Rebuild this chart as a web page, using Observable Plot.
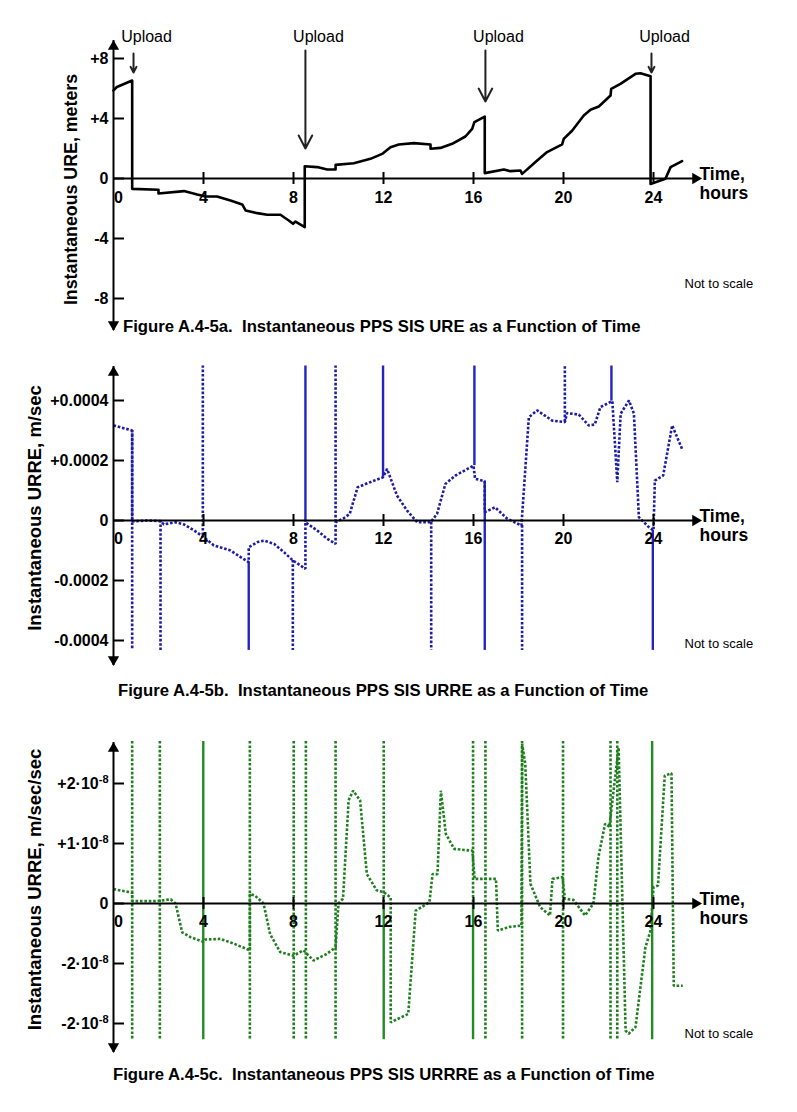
<!DOCTYPE html>
<html><head><meta charset="utf-8">
<script src="https://cdn.jsdelivr.net/npm/d3@7"></script>
<script src="https://cdn.jsdelivr.net/npm/@observablehq/plot@0.6"></script>
<style>
html,body{margin:0;padding:0;background:#fff;}
#root{position:relative;width:797px;height:1112px;overflow:hidden;font-family:"Liberation Sans",Arial,sans-serif;}
#root svg{position:absolute;left:0;overflow:visible;}
.cap{position:absolute;font-weight:bold;font-size:16.7px;white-space:pre;line-height:1;transform:translateY(-50%);color:#000;}
</style></head><body><div id="root"></div>
<script>
// ---------- data ----------
const hourTicks = [4, 8, 12, 16, 20, 24];

// Panel a: URE, meters
const ureTicks = [8, 4, 0, -4, -8];
const ureTickLabels = ["+8", "+4", "0", "-4", "-8"];
const ureT = [0, 0.15, 0.83, 0.83, 2.0, 2.0, 3.13, 3.72, 4.09, 4.6, 5.2, 5.72, 5.87, 6.39, 6.83, 7.42, 7.79, 7.98, 8.09, 8.5, 8.5, 9.05, 9.5, 9.87, 9.87, 10.68, 11.42, 11.94, 12.31, 12.68, 13.35, 14.09, 14.09, 14.53, 15.05, 15.64, 15.94, 16.04, 16.5, 16.5, 17.35, 17.64, 18.09, 18.16, 18.83, 19.27, 19.94, 20.01, 20.39, 20.9, 21.2, 21.57, 22.09, 22.12, 22.53, 23.2, 23.42, 23.87, 23.87, 24.53, 24.76, 25.27];
const ureV = [5.87, 6.1, 6.53, -0.69, -0.75, -1.0, -0.84, -1.07, -1.2, -1.2, -1.47, -1.73, -2.13, -2.31, -2.42, -2.42, -2.8, -3.02, -2.87, -3.24, 0.82, 0.76, 0.6, 0.6, 0.91, 1.02, 1.31, 1.64, 2.09, 2.27, 2.36, 2.27, 1.98, 2.04, 2.31, 2.8, 3.31, 3.76, 4.13, 0.36, 0.6, 0.49, 0.53, 0.31, 1.2, 1.76, 2.27, 2.64, 3.2, 4.2, 4.58, 4.8, 5.53, 5.98, 6.31, 6.98, 7.02, 6.82, -0.36, -0.02, 0.76, 1.16];
const uploadT = [0.89, 8.53, 16.53, 23.91];
const uploadFrom = [8.33, 8.53, 8.53, 8.33];
const uploadTo = [7.07, 2.0, 5.13, 7.07];
const uploadLabel = "Upload";
const uploadLabelV = 9.47;

// Panel b: URRE, m/sec
const urreTicks = [4e-4, 2e-4, 0, -2e-4, -4e-4];
const urreTickLabels = ["+0.0004", "+0.0002", "0", "-0.0002", "-0.0004"];
const urreT = [0, 0.83, 0.83, 1.5, 2.09, 2.24, 2.76, 3.13, 3.58, 4.02, 4.46, 5.2, 5.65, 6.01, 6.01, 6.4, 6.7, 7.14, 7.58, 7.97, 8.53, 8.53, 9.05, 9.5, 9.87, 9.87, 10.2, 10.5, 10.85, 11.42, 11.98, 12.16, 12.6, 13.05, 13.5, 14.09, 14.38, 14.75, 15.2, 16.0, 16.07, 16.5, 16.5, 16.96, 17.5, 18.13, 18.46, 18.83, 19.5, 20.06, 20.16, 20.68, 21.12, 21.39, 21.64, 22.17, 22.39, 22.54, 22.91, 23.13, 23.35, 23.79, 24.0, 24.06, 24.43, 24.83, 25.3];
const urreV = [3.17e-4, 3.0e-4, -0.03e-4, 0.0, -0.02e-4, -0.13e-4, -0.06e-4, -0.13e-4, -0.33e-4, -0.56e-4, -0.83e-4, -1.0e-4, -1.22e-4, -1.39e-4, -0.89e-4, -0.72e-4, -0.67e-4, -0.78e-4, -1.06e-4, -1.33e-4, -1.61e-4, -0.06e-4, -0.33e-4, -0.61e-4, -0.78e-4, -0.06e-4, 0.06e-4, 0.22e-4, 1.11e-4, 1.28e-4, 1.44e-4, 1.72e-4, 0.83e-4, 0.33e-4, -0.06e-4, -0.06e-4, 0.22e-4, 1.22e-4, 1.5e-4, 1.83e-4, 1.39e-4, 1.31e-4, 0.28e-4, 0.44e-4, 0.06e-4, -0.17e-4, 3.44e-4, 3.67e-4, 3.33e-4, 3.28e-4, 3.58e-4, 3.53e-4, 3.17e-4, 3.2e-4, 3.78e-4, 3.98e-4, 1.28e-4, 3.56e-4, 4.0e-4, 3.56e-4, 0.11e-4, -0.22e-4, -0.33e-4, 1.33e-4, 1.5e-4, 3.17e-4, 2.33e-4];
const urreSpikeT = [0.83, 2.09, 3.97, 6.01, 7.97, 8.53, 9.87, 11.98, 14.12, 16.04, 16.5, 18.16, 20.06, 22.13, 23.97];
const urreSpikeFrom = [3.0e-4, 0, -0.5e-4, -1.39e-4, -1.33e-4, -0.06e-4, -0.06e-4, 1.44e-4, -0.06e-4, 1.83e-4, 1.31e-4, -0.17e-4, 3.28e-4, 3.98e-4, -0.33e-4];
const urreSpikeTo = [-4.33e-4, -4.33e-4, 5.15e-4, -4.33e-4, -4.33e-4, 5.15e-4, 5.15e-4, 5.15e-4, -4.33e-4, 5.15e-4, -4.33e-4, -4.33e-4, 5.15e-4, 5.15e-4, -4.33e-4];
const urreSpikeSolid = [false, false, false, true, false, true, false, true, false, true, true, false, false, true, true];

// Panel c: URRRE, m/sec/sec
const urrreTicks = [2e-8, 1e-8, 0, -1e-8, -2e-8];
const urrreTickLabels = ["+2·10^-8", "+1·10^-8", "0", "-2·10^-8", "-2·10^-8"];
const urrreT = [0, 0.83, 0.83, 1.95, 2.54, 2.76, 3.05, 3.42, 3.99, 4.09, 4.76, 5.35, 6.06, 6.06, 6.29, 6.67, 6.96, 7.41, 8.0, 8.44, 8.89, 9.48, 9.87, 10.0, 10.2, 10.45, 10.65, 10.96, 11.26, 11.7, 12.0, 12.32, 12.32, 13.1, 13.43, 14.04, 14.18, 14.4, 14.55, 14.77, 15.14, 15.95, 16.05, 16.53, 17.0, 17.08, 17.6, 18.13, 18.16, 18.3, 18.53, 18.96, 19.4, 19.51, 19.96, 20.06, 20.44, 20.96, 21.33, 21.55, 21.85, 22.04, 22.45, 22.76, 22.9, 23.2, 23.64, 23.87, 24.0, 24.2, 24.5, 24.8, 24.9, 25.3];
const urrreV = [0.24e-8, 0.18e-8, 0.04e-8, 0.04e-8, 0.07e-8, 0, -0.48e-8, -0.56e-8, -0.64e-8, -0.6e-8, -0.59e-8, -0.67e-8, -0.78e-8, 0.16e-8, 0.13e-8, 0, -0.51e-8, -0.81e-8, -0.87e-8, -0.78e-8, -0.95e-8, -0.84e-8, -0.73e-8, 0, 0.08e-8, 1.72e-8, 1.88e-8, 1.72e-8, 0.49e-8, 0.22e-8, 0.19e-8, 0.1e-8, -1.98e-8, -1.84e-8, -0.12e-8, 0.02e-8, 0.49e-8, 0.49e-8, 1.88e-8, 1.16e-8, 0.91e-8, 0.88e-8, 0.41e-8, 0.41e-8, 0.41e-8, -0.45e-8, -0.39e-8, -0.37e-8, 2.66e-8, 2.33e-8, 0.33e-8, -0.06e-8, -0.2e-8, 0.41e-8, 0.44e-8, 0.08e-8, 0.06e-8, -0.2e-8, 0, 0.77e-8, 1.33e-8, 1.28e-8, 2.6e-8, -2.12e-8, -2.17e-8, -2.06e-8, -0.73e-8, -0.45e-8, 0.27e-8, 0.3e-8, 2.13e-8, 2.17e-8, -1.37e-8, -1.37e-8];
const urrreSpikeT = [0.83, 2.06, 3.99, 6.06, 8.01, 8.55, 9.87, 12.01, 12.01, 15.98, 15.98, 16.53, 18.16, 19.98, 22.09, 22.39, 23.94];
const urrreSpikeFrom = [2.7e-8, 2.7e-8, 2.7e-8, 2.7e-8, 2.7e-8, 2.7e-8, 2.7e-8, 2.7e-8, 0, 2.7e-8, 0, 2.7e-8, 2.7e-8, 2.7e-8, 2.7e-8, 2.7e-8, 2.7e-8];
const urrreSpikeTo = [-2.27e-8, -2.27e-8, -2.27e-8, -2.27e-8, -2.27e-8, -2.27e-8, -2.27e-8, 0, -2.27e-8, 0, -2.27e-8, -2.27e-8, -2.27e-8, -2.27e-8, -2.27e-8, -2.27e-8, -2.27e-8];
const urrreSpikeSolid = [false, false, true, false, false, false, false, false, true, false, true, false, false, false, false, false, true];

const captions = [
  "Figure A.4-5a.  Instantaneous PPS SIS URE as a Function of Time",
  "Figure A.4-5b.  Instantaneous PPS SIS URRE as a Function of Time",
  "Figure A.4-5c.  Instantaneous PPS SIS URRRE as a Function of Time"
];
const yTitles = ["Instantaneous URE, meters", "Instantaneous URRE, m/sec", "Instantaneous URRE, m/sec/sec"];
const timeLabel = "Time,\nhours";
const scaleNote = "Not to scale";

// ---------- drawing ----------
const root = document.getElementById("root");
const FONT = "'Liberation Sans', Arial, sans-serif";
const X_MAX = 26;
const DOTS = "2.6,1.8";

function rows(t, v) { return t.map((d, i) => ({t: d, v: v[i]})); }
function spikeRows(t, a, b, s) { return t.map((d, i) => ({t: d, y1: a[i], y2: b[i], solid: s[i]})); }

function panel(cfg) {
  const {top, height, zeroY, unit, axisTop, axisBottom, yTicks, yLabels, title, titleDx, titleDy, titleSize, xPad, marks, noteDy} = cfg;
  const mt = axisTop - top, mb = top + height - axisBottom;
  const yDom = [(zeroY - axisBottom) / unit, (zeroY - axisTop) / unit];
  const shift = zeroY - axisBottom - 6;
  const svg = Plot.plot({
    width: 797, height,
    marginLeft: 113, marginRight: 797 - 113 - X_MAX * 22.5, marginTop: mt, marginBottom: mb,
    style: {fontFamily: FONT, fontSize: "16px", fontWeight: "bold", color: "#000", background: "transparent", overflow: "visible"},
    x: {domain: [0, X_MAX]},
    y: {domain: yDom},
    marks: [
      ...marks,
      Plot.ruleX([0], {stroke: "#000", strokeWidth: 2}),
      Plot.ruleY([0], {stroke: "#000", strokeWidth: 2}),
      Plot.dot([yDom[1]], {x: 0, y: d => d, symbol: "triangle", r: 4.2, fill: "#000", stroke: "none", dy: 6}),
      Plot.dot([yDom[0]], {x: 0, y: d => d, symbol: "triangle", r: 4.2, fill: "#000", stroke: "none", rotate: 180, dy: -6}),
      Plot.dot([X_MAX], {x: d => d, y: 0, symbol: "triangle", r: 4.2, fill: "#000", stroke: "none", rotate: 90, dx: -3}),
      Plot.axisY(yTicks, {anchor: "left", tickSize: -11, tickPadding: 16, strokeWidth: 2,
        tickFormat: d => yLabels[yTicks.indexOf(d)], fontSize: 16, fontWeight: "bold", label: null}),
      Plot.axisX(hourTicks, {anchor: "bottom", dy: shift, tickSize: 12, tickPadding: xPad, strokeWidth: 2,
        tickFormat: d => String(d), fontSize: 16, fontWeight: "bold", label: null}),
      Plot.axisX([0], {anchor: "bottom", dy: shift, dx: 5, tickSize: 0, tickPadding: 12 + xPad,
        tickFormat: d => String(d), fontSize: 16, fontWeight: "bold", label: null}),
      Plot.text([timeLabel], {x: X_MAX, y: 0, textAnchor: "start", lineAnchor: "top", dx: 1, dy: -12,
        fontSize: 17.5, fontWeight: "bold", lineHeight: 1.1}),
      Plot.text([scaleNote], {frameAnchor: "bottom-right", textAnchor: "start", dx: -14, dy: noteDy,
        fontSize: 13, fontWeight: "normal"}),
      Plot.text([title], {frameAnchor: "left", textAnchor: "middle", lineAnchor: "middle", rotate: -90, dx: titleDx, dy: titleDy,
        fontSize: titleSize, fontWeight: "bold"})
    ]
  });
  svg.style.top = top + "px";
  root.appendChild(svg);
  return svg;
}

// Panel a
panel({
  top: 0, height: 340, zeroY: 178, unit: 15, axisTop: 40, axisBottom: 330,
  yTicks: ureTicks, yLabels: ureTickLabels, title: yTitles[0], titleDx: -42, titleDy: 4, titleSize: 17.8, xPad: 7, noteDy: -43,
  marks: [
    Plot.line(rows(ureT, ureV), {x: "t", y: "v", stroke: "#000", strokeWidth: 2.6, strokeLinejoin: "round"}),
    Plot.arrow(uploadT.map((t, i) => ({t, a: uploadFrom[i], b: uploadTo[i]})),
      {x1: "t", x2: "t", y1: "a", y2: "b", stroke: "#222", strokeWidth: 2, headLength: 11, headAngle: 55}),
    Plot.text(uploadT, {x: d => d, y: uploadLabelV, text: () => uploadLabel, dx: 13, fontSize: 16, fontWeight: "normal"})
  ]
});

// Panel b
const BLUE = "#1c1ca6", BLUE2 = "#2323bf";
const bSp = spikeRows(urreSpikeT, urreSpikeFrom, urreSpikeTo, urreSpikeSolid);
panel({
  top: 345, height: 335, zeroY: 520, unit: 60 / 2e-4, axisTop: 366, axisBottom: 665,
  yTicks: urreTicks, yLabels: urreTickLabels, title: yTitles[1], titleDx: -78, titleDy: -8, titleSize: 18.5, xPad: 6, noteDy: -18,
  marks: [
    Plot.ruleX(bSp.filter(d => !d.solid), {x: "t", y1: "y1", y2: "y2", stroke: BLUE, strokeWidth: 2.6, strokeDasharray: DOTS}),
    Plot.ruleX(bSp.filter(d => d.solid), {x: "t", y1: "y1", y2: "y2", stroke: BLUE2, strokeWidth: 2.4}),
    Plot.line(rows(urreT, urreV), {x: "t", y: "v", stroke: BLUE, strokeWidth: 2.6, strokeDasharray: DOTS, strokeLinecap: "butt", strokeLinejoin: "miter"})
  ]
});

// Panel c
const GREEN = "#1e7f1e", GREEN2 = "#228b22";
const cSp = spikeRows(urrreSpikeT, urrreSpikeFrom, urrreSpikeTo, urrreSpikeSolid);
const svgC = panel({
  top: 725, height: 335, zeroY: 903, unit: 60 / 1e-8, axisTop: 742, axisBottom: 1052,
  yTicks: urrreTicks, yLabels: urrreTickLabels, title: yTitles[2], titleDx: -78, titleDy: -8, titleSize: 18.5, xPad: 6, noteDy: -15,
  marks: [
    Plot.ruleX(cSp.filter(d => !d.solid), {x: "t", y1: "y1", y2: "y2", stroke: GREEN, strokeWidth: 2.6, strokeDasharray: DOTS}),
    Plot.ruleX(cSp.filter(d => d.solid), {x: "t", y1: "y1", y2: "y2", stroke: GREEN2, strokeWidth: 2.4}),
    Plot.line(rows(urrreT, urrreV), {x: "t", y: "v", stroke: GREEN, strokeWidth: 2.6, strokeDasharray: DOTS, strokeLinecap: "butt", strokeLinejoin: "miter"})
  ]
});
// superscript exponents on panel c tick labels
d3.select(svgC).selectAll("text").each(function () {
  const s = this.textContent;
  if (s.includes("^")) {
    const [b, e] = s.split("^");
    const t = d3.select(this);
    t.text(null);
    t.append("tspan").text(b);
    t.append("tspan").attr("dy", "-0.5em").attr("font-size", "11px").text(e);
  }
});

// captions
const capPos = [[123, 327], [118, 691], [113, 1075]];
captions.forEach((c, i) => {
  const d = document.createElement("div");
  d.className = "cap";
  d.textContent = c;
  d.style.left = capPos[i][0] + "px";
  d.style.top = capPos[i][1] + "px";
  root.appendChild(d);
});
</script>
</body></html>
